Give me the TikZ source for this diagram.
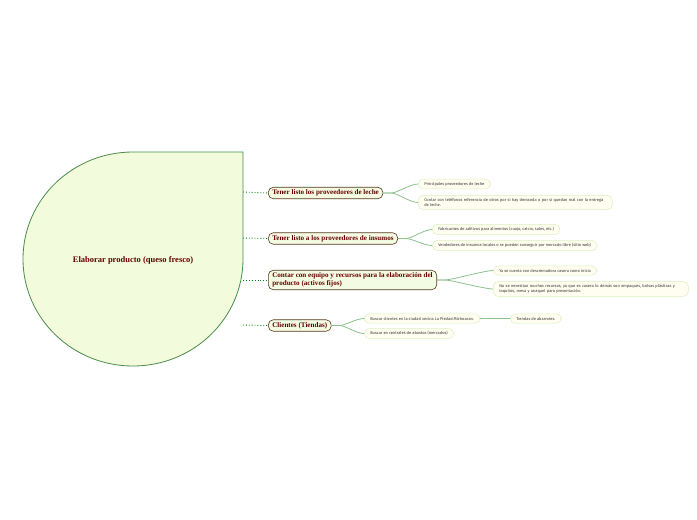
\documentclass[tikz,border=0pt]{standalone}
\usepackage{fontspec}
\setmainfont{Fira Sans}
\newfontfamily\slab{Liberation Serif}
\definecolor{rootfill}{HTML}{F2FCDC}
\definecolor{mainfill}{HTML}{F4FBE3}
\begin{document}
\begin{tikzpicture}[x=1pt,y=-1pt,
  mainbox/.style={draw=black!55!brown, fill=mainfill, line width=0.6pt, rounded corners=5pt, anchor=west, align=left, font=\slab\bfseries\fontsize{7.1}{8}\selectfont, text=red!40!black, inner xsep=4pt, inner ysep=2.5pt},
  subbox/.style={draw=yellow!40!green!25, fill=yellow!6, line width=0.5pt, rounded corners=5pt, anchor=west, align=left, font=\fontsize{4}{5}\selectfont, text=black!80, inner xsep=6pt, inner ysep=3pt},
  dotc/.style={draw=green!50!black, dotted, line width=0.9pt},
  curvc/.style={draw=green!45!black!45, line width=0.8pt}]
\useasboundingbox (0,0) rectangle (697,520);
\fill[white] (0,0) rectangle (697,520);
\filldraw[fill=rootfill, draw=green!35!black!70, line width=0.8pt]
  (133,152) arc[start angle=-90, end angle=-360, x radius=110, y radius=107] -- (243,152) -- cycle;
\node[font=\slab\bfseries\fontsize{8.5}{9}\selectfont, text=red!40!black] (root) at (133,260) {Elaborar producto (queso fresco)};
\coordinate (r1) at (243,192);
\coordinate (r2) at (243,238);
\coordinate (r3) at (243,280);
\coordinate (r4) at (243,325);
\node[mainbox] (m1) at (268,193) {Tener listo los proveedores de leche};
\node[mainbox] (m2) at (268,238.5) {Tener listo a los proveedores de insumos};
\node[mainbox] (m3) at (268,280) {Contar con equipo y recursos para la elaboración del\\producto (activos fijos)};
\node[mainbox] (m4) at (268,325.5) {Clientes (Tiendas)};
\foreach \a/\b in {r1/m1,r2/m2,r3/m3,r4/m4} \draw[dotc] (\a) -- (\b.west);
\node[subbox] (s1) at (418,184) {Principales proveedores de leche};
\node[subbox, text width=182pt] (s2) at (418,202.5) {Contar con teléfonos referencia de otros por si hay demanda o por si quedan mal con la entrega de leche.};
\node[subbox] (s3) at (432,229.5) {Fabricantes de aditivos para alimentos (cuajo, calcio, sales, etc.)};
\node[subbox] (s4) at (432,245.5) {Vendedores de insumos locales o se pueden conseguir por mercado libre (sitio web)};
\node[subbox] (s5) at (493,270.5) {Ya se cuenta con descremadora casera como inicio};
\node[subbox, text width=183pt] (s6) at (493,289) {No se necesitan muchos recursos, ya que es casero lo demás son empaques, bolsas plásticas y taquitos, mesa y anaquel para presentación.};
\node[subbox] (s7) at (364,318.5) {Buscar clientes en la ciudad vecina La Piedad Michoacan.};
\node[subbox] (s8) at (510,318.5) {Tiendas de abarrotes.};
\node[subbox] (s9) at (364,333.5) {Buscar en centrales de abastos (mercados)};
\foreach \m/\s in {m1/s1,m1/s2,m2/s3,m2/s4,m3/s5,m3/s6,m4/s7,m4/s9}
  \draw[curvc] (\m.east) -- ++(8,0) .. controls +(6,0) and ([xshift=-8pt]\s.west) .. (\s.west);
\draw[curvc] (s7.east) -- (s8.west);
\end{tikzpicture}
\end{document}
